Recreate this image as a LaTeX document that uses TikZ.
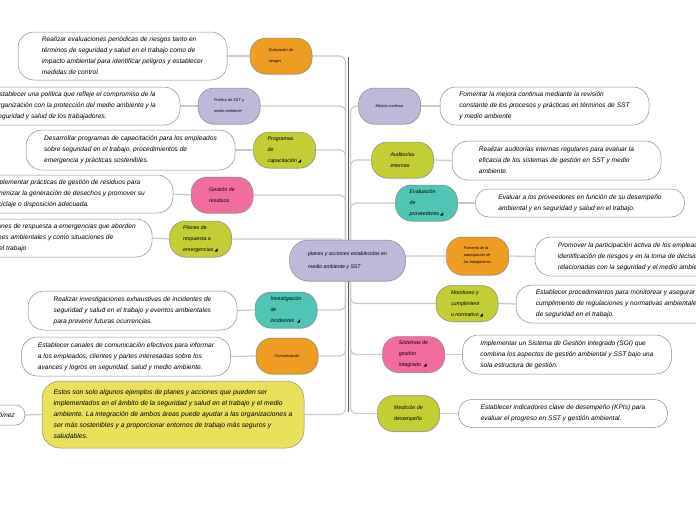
\documentclass[tikz,border=0pt]{standalone}
\usepackage{fontspec}
\setmainfont{Liberation Sans}
\newfontfamily\symfont{DejaVu Sans}
\usetikzlibrary{backgrounds,shadows}
\definecolor{mmorange}{HTML}{EE9C22}
\definecolor{mmlavender}{HTML}{BEB9DB}
\definecolor{mmgreen}{HTML}{C3CD34}
\definecolor{mmpink}{HTML}{F26D9D}
\definecolor{mmteal}{HTML}{4EC5B5}
\definecolor{mmyellow}{HTML}{EAE05B}
\definecolor{mmline}{HTML}{CACACA}
\definecolor{mmborder}{HTML}{8A8A8A}
\newcommand\noteicon{\,{\symfont\upshape\fontsize{4.4}{4}\selectfont ◢}}

\begin{document}
\begin{tikzpicture}[%
      x=1pt, y=-1pt,
      every node/.style={align=left, inner sep=0pt},
      topic/.style={draw=mmborder, line width=0.5pt, rounded corners=16pt,
                    minimum width=62pt, minimum height=36pt,
                    font={\fontsize{5.3}{11}\selectfont\itshape},
                    drop shadow={shadow xshift=0.6pt, shadow yshift=-0.8pt,
                                 opacity=0.3}},
      small topic/.style={topic, font={\fontsize{3.9}{11}\selectfont\itshape}},
      detail/.style={draw=mmborder, fill=white, line width=0.5pt,
                     rounded corners=16pt, minimum width=209pt,
                     minimum height=39pt,
                     font={\fontsize{6.6}{11}\selectfont\itshape}},
      short detail/.style={detail, minimum height=28pt, rounded corners=13pt},
      link/.style={draw=mmline, line width=1.2pt, rounded corners=6pt},
      trunk/.style={draw=black!65, line width=0.6pt}
    ]
    \useasboundingbox (0,0) rectangle (696,520);
    \clip (0,0) rectangle (696,520);

    \node [topic, fill=mmlavender, minimum width=116pt, minimum height=41pt,
           rounded corners=19pt, font={\fontsize{5.2}{13}\selectfont\itshape}]
     (C root) at (347.5,260.5) {planes y acciones establecidas en\\medio ambiente y SST};

    \node [small topic, fill=mmorange] (T riesgos) at (281,56) {Evaluación de\\riesgos};
    \node [small topic, fill=mmlavender] (T politica) at (229,106) {Política de SST y\\medio ambiente};
    \node [topic, fill=mmgreen] (T capacitacion) at (284.5,150) {Programas\\de\\capacitación\noteicon};
    \node [topic, fill=mmpink] (T residuos) at (222,195) {Gestión de\\residuos};
    \node [topic, fill=mmgreen] (T emergencias) at (200.5,239) {Planes de\\respuesta a\\emergencias\noteicon};
    \node [topic, fill=mmteal] (T incidentes) at (286,310) {Investigación\\de\\incidentes \noteicon};
    \node [small topic, fill=mmorange] (T comunicacion) at (287,356) {Comunicación};

    \node [small topic, fill=mmlavender] (T mejora) at (389.5,106) {Mejora continua};
    \node [topic, fill=mmgreen] (T auditorias) at (402.5,160) {Auditorías\\internas};
    \node [topic, fill=mmteal] (T proveedores) at (426.5,203) {Evaluación\\de\\proveedores\noteicon};
    \node [small topic, fill=mmorange, minimum height=38pt,
           font={\fontsize{3.8}{7}\selectfont\itshape}]
     (T fomento) at (477.5,256) {Fomento de la\\participación de\\los trabajadores};
    \node [topic, fill=mmgreen] (T monitoreo) at (467,303.5) {Monitoreo y\\cumplimient\\o normativo\noteicon};
    \node [topic, fill=mmpink] (T sgi) at (413.5,354.5) {Sistemas de\\gestión\\integrado \noteicon};
    \node [topic, fill=mmgreen] (T medicion) at (408.5,413.5) {Medición de\\desempeño};

    \node [detail, minimum height=48pt] (D riesgos) at (122.5,56)
     {Realizar evaluaciones periódicas de riesgos tanto en\\términos de seguridad y salud en el trabajo como de\\impacto ambiental para identificar peligros y establecer\\medidas de control.};
    \node [detail, minimum height=38pt] (D politica) at (75.5,106)
     {Establecer una política que refleje el compromiso de la\\organización con la protección del medio ambiente y la\\seguridad y salud de los trabajadores.};
    \node [detail, minimum height=40pt] (D capacitacion) at (130.5,150)
     {Desarrollar programas de capacitación para los empleados\\sobre seguridad en el trabajo, procedimientos de\\emergencia y prácticas sostenibles.};
    \node [detail, minimum height=38pt] (D residuos) at (68.5,194)
     {Implementar prácticas de gestión de residuos para\\minimizar la generación de desechos y promover su\\reciclaje o disposición adecuada.};
    \node [detail, minimum height=38pt] (D emergencias) at (47.5,238)
     {Establecer planes de respuesta a emergencias que aborden\\tanto situaciones ambientales y como situaciones de\\seguridad en el trabajo};
    \node [detail] (D incidentes) at (132.5,310.5)
     {Realizar investigaciones exhaustivas de incidentes de\\seguridad y salud en el trabajo y eventos ambientales\\para prevenir futuras ocurrencias.};
    \node [detail] (D comunicacion) at (126,356.5)
     {Establecer canales de comunicación efectivos para informar\\a los empleados, clientes y partes interesadas sobre los\\avances y logros en seguridad, salud y medio ambiente.};

    \node [detail, minimum height=38pt] (D mejora) at (544.5,106)
     {Fomentar la mejora continua mediante la revisión\\constante de los procesos y prácticas en términos de SST\\y medio ambiente};
    \node [detail] (D auditorias) at (556.5,160.5)
     {Realizar auditorías internas regulares para evaluar la\\eficacia de los sistemas de gestión en SST y medio\\ambiente.};
    \node [short detail] (D proveedores) at (580,203)
     {Evaluar a los proveedores en función de su desempeño\\ambiental y en seguridad y salud en el trabajo.};
    \node [detail] (D fomento) at (639.5,256.5)
     {Promover la participación activa de los empleados en la\\identificación de riesgos y en la toma de decisiones\\relacionadas con la seguridad y el medio ambiente.};
    \node [detail, minimum height=38pt] (D monitoreo) at (620.5,304)
     {Establecer procedimientos para monitorear y asegurar el\\cumplimiento de regulaciones y normativas ambientales y\\de seguridad en el trabajo.};
    \node [detail] (D sgi) at (567,354.5)
     {Implementar un Sistema de Gestión Integrado (SGI) que\\combina los aspectos de gestión ambiental y SST bajo una\\sola estructura de gestión.};
    \node [short detail] (D medicion) at (563,413.5)
     {Establecer indicadores clave de desempeño (KPIs) para\\evaluar el progreso en SST y gestión ambiental.};

    \node [detail, fill=mmyellow, minimum width=262pt, minimum height=67pt,
           rounded corners=18pt, font={\fontsize{6.8}{11}\selectfont\itshape}]
     (T conclusion) at (173,414.5)
     {Estos son solo algunos ejemplos de planes y acciones que pueden ser\\implementados en el ámbito de la seguridad y salud en el trabajo y el medio\\ambiente. La integración de ambos áreas puede ayudar a las organizaciones a\\ser más sostenibles y a proporcionar entornos de trabajo más seguros y\\saludables.};
    \node [detail, minimum width=0pt, minimum height=20pt, rounded corners=9pt,
           inner xsep=10pt, anchor=east] (D gomez) at (25,415) {Gómez};

    \begin{scope}[on background layer]
      \foreach \t in {riesgos,politica,capacitacion,residuos,emergencias,incidentes,comunicacion}
       {\draw [link] (T \t.east) -| ([xshift=-2pt]C root.center);
        \draw [link] (D \t.east) -- (T \t.west);}
      \foreach \t in {mejora,auditorias,proveedores,fomento,monitoreo,sgi,medicion}
       {\draw [link] (T \t.west) -| ([xshift=3pt]C root.center);
        \draw [link] (T \t.east) -- (D \t.west);}
      \draw [link] (T conclusion.east) -| ([xshift=-2pt]C root.center);
      \draw [link] (D gomez.east) -- (T conclusion.west);
      \coordinate (trunk top) at (348,57);
      \coordinate (trunk end) at (348,412);
      \draw [trunk] (trunk top) -- (trunk end);
    \end{scope}
\end{tikzpicture}
\end{document}
